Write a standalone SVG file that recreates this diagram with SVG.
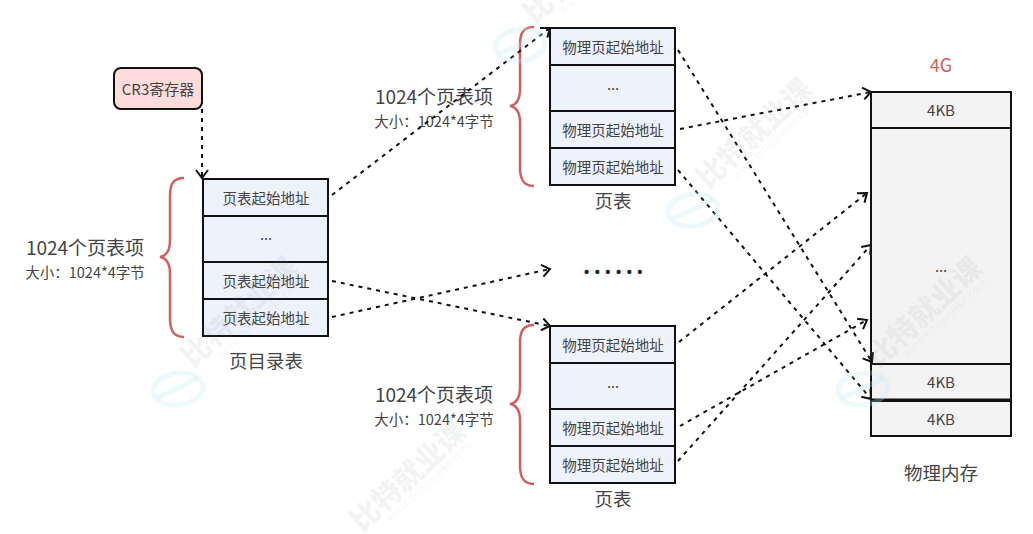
<svg xmlns="http://www.w3.org/2000/svg" width="1033" height="534" viewBox="0 0 1033 534">
<style>
text{font-family:"Noto Sans CJK SC","Noto Sans",sans-serif;fill:#444;text-anchor:middle}
.c{font-size:14.5px}
.l{font-size:18.5px}
.t{font-size:19px}
.s{font-size:14.5px}
.b{fill:#edf2fc;stroke:#111;stroke-width:2}
.p{fill:#f3f3f3;stroke:#111;stroke-width:2}
.br{fill:none;stroke:#d06060;stroke-width:2.5}
.e{fill:none;stroke:#111;stroke-width:2;stroke-dasharray:4 5}
.w{font-size:29px;font-weight:900;fill:#7d8c8c;fill-opacity:.09;text-anchor:start}
.w2{font-size:11px;fill:#7d8c8c;fill-opacity:.09;text-anchor:start}
.o{fill:none;stroke:#bfe8f5;stroke-opacity:.28;stroke-width:5}
</style>
<defs>
<marker id="a" markerWidth="14" markerHeight="14" refX="11" refY="7" orient="auto" markerUnits="userSpaceOnUse"><path d="M3 1L11 7L3 13" fill="none" stroke="#111" stroke-width="2"/></marker>
<g id="wm"><ellipse class="o" cx="-15" cy="20" rx="25" ry="16" transform="rotate(-8 -15 20)"/><path class="o" d="M-36 28C-20 24 -6 14 5 9"/><text class="w" transform="rotate(-43)">比特就业课</text><text class="w2" x="28" y="12" transform="rotate(-43)">www.bitejiuyeke.com</text></g>
</defs>
<rect width="1033" height="534" fill="#fff"/>
<g id="cr3"><rect x="114" y="68" width="88" height="41" rx="7" fill="#ffdcdc" stroke="#111" stroke-width="2"/><text x="158" y="95" font-size="15">CR3寄存器</text></g>
<g id="page-directory">
<rect class="b" x="203" y="179" width="125" height="37"/><rect class="b" x="203" y="216" width="125" height="46"/><rect class="b" x="203" y="262" width="125" height="37"/><rect class="b" x="203" y="299" width="125" height="37"/>
<text class="c" x="266" y="204">页表起始地址</text><text class="c" x="266" y="240">...</text><text class="c" x="266" y="287">页表起始地址</text><text class="c" x="266" y="324">页表起始地址</text>
<text class="l" x="266" y="368">页目录表</text>
<path class="br" d="M184 178C172 178 170 186 170 196V240C170 251 166 256 160 257C166 258 170 263 170 274V318C170 328 172 337 184 337"/>
<text class="t" x="85" y="255">1024个页表项</text><text class="s" x="85" y="278">大小：1024*4字节</text>
</g>
<g id="page-table-1">
<rect class="b" x="550" y="28" width="125" height="37"/><rect class="b" x="550" y="65" width="125" height="46"/><rect class="b" x="550" y="111" width="125" height="37"/><rect class="b" x="550" y="148" width="125" height="37"/>
<text class="c" x="613" y="53">物理页起始地址</text><text class="c" x="613" y="90">...</text><text class="c" x="613" y="136">物理页起始地址</text><text class="c" x="613" y="173">物理页起始地址</text>
<text class="l" x="613" y="208">页表</text>
<path class="br" d="M534 27C522 27 520 35 520 45V89C520 100 516 105 510 106C516 107 520 112 520 123V167C520 177 522 186 534 186"/>
<text class="t" x="434" y="104">1024个页表项</text><text class="s" x="434" y="127">大小：1024*4字节</text>
</g>
<g id="page-table-2">
<rect class="b" x="550" y="326" width="125" height="37"/><rect class="b" x="550" y="363" width="125" height="46"/><rect class="b" x="550" y="409" width="125" height="37"/><rect class="b" x="550" y="446" width="125" height="37"/>
<text class="c" x="613" y="351">物理页起始地址</text><text class="c" x="613" y="388">...</text><text class="c" x="613" y="434">物理页起始地址</text><text class="c" x="613" y="471">物理页起始地址</text>
<text class="l" x="613" y="506">页表</text>
<path class="br" d="M534 325C522 325 520 333 520 343V387C520 398 516 403 510 404C516 405 520 410 520 421V465C520 475 522 484 534 484"/>
<text class="t" x="434" y="402">1024个页表项</text><text class="s" x="434" y="425">大小：1024*4字节</text>
</g>
<g id="physical-memory">
<rect class="p" x="871" y="92" width="140" height="36"/><rect class="p" x="871" y="128" width="140" height="236"/><rect class="p" x="871" y="364" width="140" height="36"/><rect class="p" x="871" y="401" width="140" height="35"/>
<path d="M871 400H1011" stroke="#111" stroke-width="3"/>
<text x="941" y="72" font-size="18" style="fill:#d06060">4G</text>
<text x="941" y="116" font-size="15">4KB</text><text class="c" x="941" y="272">...</text><text x="941" y="388" font-size="15">4KB</text><text x="941" y="425" font-size="15">4KB</text>
<text class="l" x="941" y="480">物理内存</text>
</g>
<g id="dots"><text x="615" y="274" font-size="22" font-weight="700" letter-spacing="3.5" style="fill:#222">......</text></g>
<g id="connectors">
<path class="e" marker-end="url(#a)" d="M202 91V178"/>
<path class="e" marker-end="url(#a)" d="M332 195L550 28"/>
<path class="e" marker-end="url(#a)" d="M332 281L550 326"/>
<path class="e" marker-end="url(#a)" d="M332 317L550 269"/>
<path class="e" marker-end="url(#a)" d="M678 50L872 362"/>
<path class="e" marker-end="url(#a)" d="M680 129L871 92"/>
<path class="e" marker-end="url(#a)" d="M678 170L871 399"/>
<path class="e" marker-end="url(#a)" d="M679 342L867 193"/>
<path class="e" marker-end="url(#a)" d="M680 426L867 320"/>
<path class="e" marker-end="url(#a)" d="M678 461L871 245"/>
</g>
<g id="watermarks">
<use href="#wm" x="535" y="25"/><use href="#wm" x="708" y="190"/><use href="#wm" x="193" y="369"/><use href="#wm" x="878" y="369"/><use href="#wm" x="362" y="533"/>
</g>
</svg>
